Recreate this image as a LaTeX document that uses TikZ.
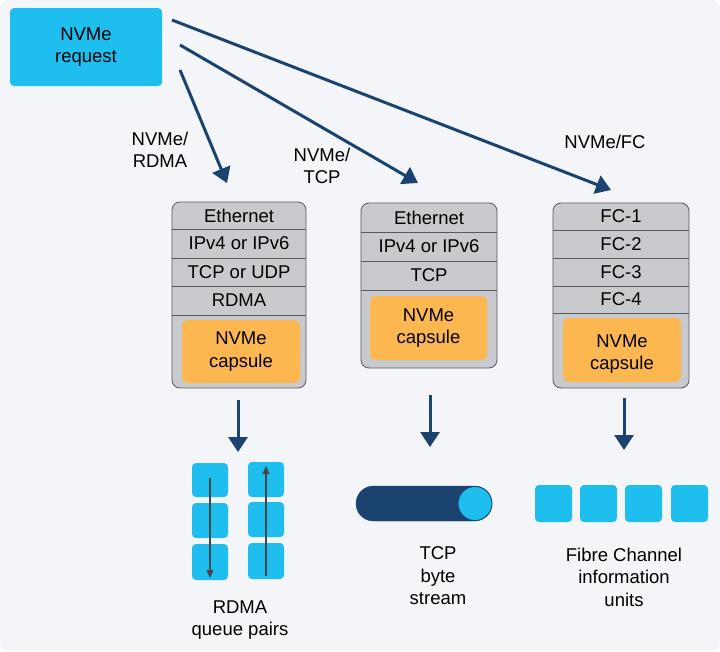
\documentclass[tikz,border=0pt]{standalone}
\usepackage{fontspec}
\setmainfont{Liberation Sans}
\usetikzlibrary{arrows.meta}
\definecolor{bg}{HTML}{F4F5F8}
\definecolor{cy}{HTML}{1EBEEE}
\definecolor{nv}{HTML}{1B4370}
\definecolor{gr}{HTML}{C9CACD}
\definecolor{bd}{HTML}{58595B}
\definecolor{og}{HTML}{FDB750}
\begin{document}
\begin{tikzpicture}[x=1pt,y=-1pt,
 txt/.style={font=\fontsize{18.5}{22.5}\selectfont,align=center,text=black,inner sep=0pt},
 row/.style={draw=bd,line width=0.8pt,fill=gr},
 caps/.style={fill=og,rounded corners=6pt},
 arr/.style={draw=nv,line width=3pt,-{Triangle[length=15pt,width=19pt]}},
 sq/.style={fill=cy,rounded corners=4pt},
 thin/.style={draw=bd!80!black,line width=1.3pt,-{Triangle[length=8pt,width=7pt]}}]
\useasboundingbox (0,0) rectangle (720,651);
\fill[bg,rounded corners=8pt] (0,0) rectangle (720,651);
% request
\node[fill=cy,rounded corners=4pt,minimum width=152pt,minimum height=78pt,txt] (req) at (86,47) {NVMe\\request};
% stack 1
\draw[row,rounded corners=8pt] (172,202) rectangle (306,388);
\foreach \y in {229,258,286,315} \draw[bd,line width=0.8pt] (172,\y) -- (306,\y);
\node[txt] (e1) at (239,216) {Ethernet};
\node[txt] (i1) at (239,243.5) {IPv4 or IPv6};
\node[txt] (t1) at (239,272) {TCP or UDP};
\node[txt] (r1) at (239,300.5) {RDMA};
\fill[caps] (182,320) rectangle (300,383);
\node[txt] (c1) at (241,351.5) {NVMe\\capsule};
% stack 2
\draw[row,rounded corners=8pt] (361,203) rectangle (497,368);
\foreach \y in {232,261,290} \draw[bd,line width=0.8pt] (361,\y) -- (497,\y);
\node[txt] (e2) at (429,217.5) {Ethernet};
\node[txt] (i2) at (429,246.5) {IPv4 or IPv6};
\node[txt] (t2) at (429,275.5) {TCP};
\fill[caps] (370,296) rectangle (487,360);
\node[txt] (c2) at (428.5,328) {NVMe\\capsule};
% stack 3
\draw[row,rounded corners=8pt] (553,203) rectangle (689,388);
\foreach \y in {230,258,286,313} \draw[bd,line width=0.8pt] (553,\y) -- (689,\y);
\node[txt] (f1) at (621,216.5) {FC-1};
\node[txt] (f2) at (621,244) {FC-2};
\node[txt] (f3) at (621,272) {FC-3};
\node[txt] (f4) at (621,299.5) {FC-4};
\fill[caps] (563,318) rectangle (681,382);
\node[txt] (c3) at (622,354) {NVMe\\capsule};
% arrows from request
\coordinate (a1s) at (180,70); \coordinate (a1e) at (227,183);
\coordinate (a2s) at (180,45); \coordinate (a2e) at (418,183);
\coordinate (a3s) at (172,20); \coordinate (a3e) at (611,190);
\draw[arr] (a1s) -- (a1e);
\draw[arr] (a2s) -- (a2e);
\draw[arr] (a3s) -- (a3e);
\node[txt] (l1) at (160,150) {NVMe/\\RDMA};
\node[txt] (l2) at (322,166) {NVMe/\\TCP};
\node[txt] (l3) at (605,142) {NVMe/FC};
% down arrows
\coordinate (d1s) at (238,400); \coordinate (d1e) at (238,452);
\coordinate (d2s) at (430,395); \coordinate (d2e) at (430,447);
\coordinate (d3s) at (624,398); \coordinate (d3e) at (624,450);
\draw[arr] (d1s) -- (d1e);
\draw[arr] (d2s) -- (d2e);
\draw[arr] (d3s) -- (d3e);
% queue pairs
\fill[sq] (192,463) rectangle (228,497);
\fill[sq] (192,503) rectangle (228,538);
\fill[sq] (192,544) rectangle (228,580);
\fill[sq] (248,462) rectangle (284,497);
\fill[sq] (248,502) rectangle (284,537);
\fill[sq] (248,543) rectangle (284,579);
\coordinate (q1s) at (210,478); \coordinate (q1e) at (210,578);
\coordinate (q2s) at (266,576); \coordinate (q2e) at (266,466);
\draw[thin] (q1s) -- (q1e);
\draw[thin] (q2s) -- (q2e);
% tcp stream
\draw[nv,fill=nv,rounded corners=17.5pt] (356,486) rectangle (492,521);
\draw[fill=cy,draw=nv,line width=0.8pt] (475,503.5) circle (17);
% FC units
\foreach \x in {535,580,625,671} \fill[sq] (\x,485) rectangle ++(37,37);
% labels
\node[txt] (b1) at (240,620) {RDMA\\queue pairs};
\node[txt] (b2) at (438,576) {TCP\\byte\\stream};
\node[txt] (b3) at (624,577) {Fibre Channel\\information\\units};
\end{tikzpicture}
\end{document}
